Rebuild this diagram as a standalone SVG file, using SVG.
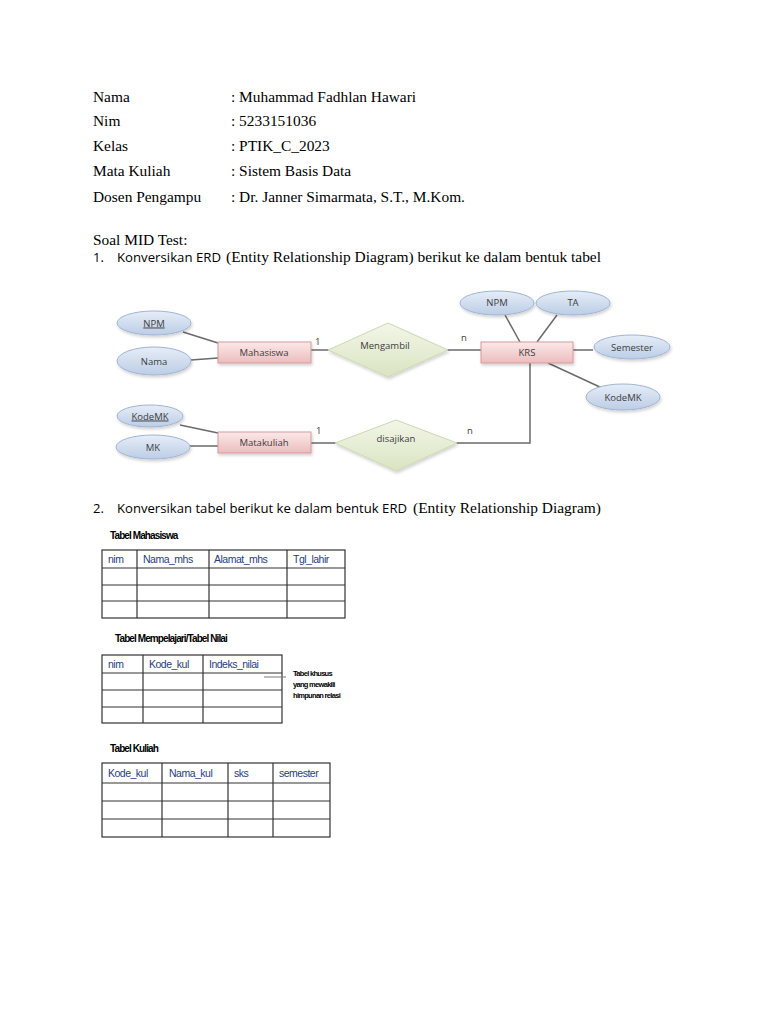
<svg xmlns="http://www.w3.org/2000/svg" width="768" height="1024" viewBox="0 0 768 1024">
<defs>
<linearGradient id="gEll" x1="0" y1="0" x2="0" y2="1"><stop offset="0" stop-color="#e6edf7"/><stop offset="1" stop-color="#bccde6"/></linearGradient>
<linearGradient id="gRect" x1="0" y1="0" x2="0" y2="1"><stop offset="0" stop-color="#fbe9e9"/><stop offset="1" stop-color="#ecbcbd"/></linearGradient>
<linearGradient id="gDia" x1="0" y1="0" x2="0" y2="1"><stop offset="0" stop-color="#f3f6e8"/><stop offset="1" stop-color="#d9e4c2"/></linearGradient>
<filter id="sh" x="-20%" y="-30%" width="140%" height="170%"><feDropShadow dx="1" dy="2" stdDeviation="1.5" flood-color="#000" flood-opacity="0.18"/></filter>
</defs>
<style>
.ser{font-family:"Liberation Serif",serif;font-size:15.4px;fill:#000}
.san{font-family:"Open Sans","Noto Sans",sans-serif;font-size:13px;fill:#000}
.ell{fill:url(#gEll);stroke:#9fb4d4;stroke-width:1;filter:url(#sh)}
.ent{fill:url(#gRect);stroke:#d8999b;stroke-width:1;filter:url(#sh)}
.dia{fill:url(#gDia);stroke:#ccd8b0;stroke-width:1;filter:url(#sh)}
.el{font-family:"Open Sans","Noto Sans",sans-serif;font-size:9.5px;fill:#3d3d3d;text-anchor:middle}
.card{font-family:"Open Sans","Noto Sans",sans-serif;font-size:9.5px;fill:#3d3d3d}
.lnk{stroke:#6a6a6a;stroke-width:1.5;fill:none}
.tl{font-family:"Liberation Sans",Arial,sans-serif;font-size:10px;font-weight:bold;fill:#000;letter-spacing:-0.9px}
.note{font-family:"Liberation Sans",Arial,sans-serif;font-size:7.5px;font-weight:bold;fill:#000;letter-spacing:-0.7px}
.grid{stroke:#333;stroke-width:1.2;fill:none}
.th{font-family:"Liberation Sans",Arial,sans-serif;font-size:10.5px;fill:#1f3c88;letter-spacing:-0.5px}
</style>
<rect width="768" height="1024" fill="#fff"/>

<g id="header">
<text class="ser" x="93" y="102">Nama</text><text class="ser" x="231" y="102">: Muhammad Fadhlan Hawari</text>
<text class="ser" x="93" y="126">Nim</text><text class="ser" x="231" y="126">: 5233151036</text>
<text class="ser" x="93" y="151">Kelas</text><text class="ser" x="231" y="151">: PTIK_C_2023</text>
<text class="ser" x="93" y="176">Mata Kuliah</text><text class="ser" x="231" y="176">: Sistem Basis Data</text>
<text class="ser" x="93" y="202">Dosen Pengampu</text><text class="ser" x="231" y="202">: Dr. Janner Simarmata, S.T., M.Kom.</text>
<text class="ser" x="93" y="245">Soal MID Test:</text>
<text class="san" x="93" y="262">1.</text>
<text class="san" x="117" y="262" textLength="104" lengthAdjust="spacingAndGlyphs">Konversikan ERD</text>
<text class="ser" x="226" y="262" textLength="375" lengthAdjust="spacingAndGlyphs">(Entity Relationship Diagram) berikut ke dalam bentuk tabel</text>
<text class="san" x="93" y="513">2.</text>
<text class="san" x="117" y="513" textLength="290" lengthAdjust="spacingAndGlyphs">Konversikan tabel berikut ke dalam bentuk ERD</text>
<text class="ser" x="413" y="513" textLength="188" lengthAdjust="spacingAndGlyphs">(Entity Relationship Diagram)</text>
</g>

<g id="connectors">
<line class="lnk" x1="183" y1="332" x2="218" y2="343"/>
<line class="lnk" x1="191" y1="360" x2="218" y2="358"/>
<line class="lnk" x1="311" y1="350" x2="329" y2="350"/>
<line class="lnk" x1="447" y1="350" x2="481" y2="350"/>
<line class="lnk" x1="505" y1="315" x2="520" y2="342"/>
<line class="lnk" x1="557" y1="315" x2="537" y2="342"/>
<line class="lnk" x1="573" y1="350" x2="593" y2="350"/>
<line class="lnk" x1="548" y1="363" x2="602" y2="388"/>
<polyline class="lnk" points="530,363 530,443 456,443"/>
<line class="lnk" x1="180" y1="425" x2="218" y2="433"/>
<line class="lnk" x1="190" y1="446" x2="218" y2="446"/>
<line class="lnk" x1="311" y1="443" x2="336" y2="443"/>
<text class="card" x="315" y="345">1</text>
<text class="card" x="461" y="341">n</text>
<text class="card" x="316" y="434">1</text>
<text class="card" x="467" y="434">n</text>
</g>

<g id="npm-left"><ellipse class="ell" cx="154" cy="323" rx="37" ry="12"/><text class="el" x="154" y="326.5" text-decoration="underline">NPM</text></g>
<g id="nama"><ellipse class="ell" cx="154" cy="361" rx="37" ry="14"/><text class="el" x="154" y="364.5">Nama</text></g>
<g id="mahasiswa"><rect class="ent" x="218" y="342" width="93" height="21"/><text class="el" x="264" y="356">Mahasiswa</text></g>
<g id="mengambil"><polygon class="dia" points="328,350 388,323 448,350 388,377"/><text class="el" x="385" y="349">Mengambil</text></g>
<g id="krs"><rect class="ent" x="481" y="342" width="92" height="21"/><text class="el" x="527" y="356">KRS</text></g>
<g id="npm-top"><ellipse class="ell" cx="497" cy="303" rx="37" ry="12"/><text class="el" x="497" y="306">NPM</text></g>
<g id="ta"><ellipse class="ell" cx="573" cy="303" rx="37" ry="12"/><text class="el" x="573" y="306">TA</text></g>
<g id="semester"><ellipse class="ell" cx="632" cy="347" rx="38" ry="12"/><text class="el" x="632" y="350.5">Semester</text></g>
<g id="kodemk-right"><ellipse class="ell" cx="623" cy="397" rx="37" ry="13"/><text class="el" x="623" y="400.5">KodeMK</text></g>
<g id="kodemk-left"><ellipse class="ell" cx="150" cy="416" rx="33" ry="11"/><text class="el" x="150" y="419.5" text-decoration="underline">KodeMK</text></g>
<g id="mk"><ellipse class="ell" cx="153" cy="447" rx="37" ry="12"/><text class="el" x="153" y="450.5">MK</text></g>
<g id="matakuliah"><rect class="ent" x="218" y="432" width="93" height="21"/><text class="el" x="264" y="446">Matakuliah</text></g>
<g id="disajikan"><polygon class="dia" points="335,443 396,420 457,443 396,471"/><text class="el" x="396" y="442">disajikan</text></g>

<g id="tabel-mahasiswa">
<text class="tl" x="110" y="539">Tabel Mahasiswa</text>
<rect class="grid" x="102" y="550" width="243" height="68"/>
<line class="grid" x1="102" y1="568" x2="345" y2="568"/>
<line class="grid" x1="102" y1="585" x2="345" y2="585"/>
<line class="grid" x1="102" y1="601" x2="345" y2="601"/>
<line class="grid" x1="137" y1="550" x2="137" y2="618"/>
<line class="grid" x1="209" y1="550" x2="209" y2="618"/>
<line class="grid" x1="287" y1="550" x2="287" y2="618"/>
<text class="th" x="108" y="563">nim</text>
<text class="th" x="143" y="563">Nama_mhs</text>
<text class="th" x="214" y="563">Alamat_mhs</text>
<text class="th" x="293" y="563">Tgl_lahir</text>
</g>

<g id="tabel-nilai">
<text class="tl" x="115" y="642">Tabel Mempelajari/Tabel Nilai</text>
<rect class="grid" x="102" y="655" width="180" height="68"/>
<line class="grid" x1="102" y1="673" x2="282" y2="673"/>
<line class="grid" x1="102" y1="690" x2="282" y2="690"/>
<line class="grid" x1="102" y1="707" x2="282" y2="707"/>
<line class="grid" x1="143" y1="655" x2="143" y2="723"/>
<line class="grid" x1="203" y1="655" x2="203" y2="723"/>
<text class="th" x="108" y="668">nim</text>
<text class="th" x="149" y="668">Kode_kul</text>
<text class="th" x="209" y="668">Indeks_nilai</text>
<line x1="264" y1="677" x2="286" y2="677" stroke="#777" stroke-width="1"/>
<text class="note" x="293" y="676">Tabel khusus</text>
<text class="note" x="293" y="687">yang mewakili</text>
<text class="note" x="293" y="698">himpunan relasi</text>
</g>

<g id="tabel-kuliah">
<text class="tl" x="110" y="752">Tabel Kuliah</text>
<rect class="grid" x="102" y="763" width="228" height="74"/>
<line class="grid" x1="102" y1="783" x2="330" y2="783"/>
<line class="grid" x1="102" y1="801" x2="330" y2="801"/>
<line class="grid" x1="102" y1="819" x2="330" y2="819"/>
<line class="grid" x1="162" y1="763" x2="162" y2="837"/>
<line class="grid" x1="228" y1="763" x2="228" y2="837"/>
<line class="grid" x1="273" y1="763" x2="273" y2="837"/>
<text class="th" x="108" y="777">Kode_kul</text>
<text class="th" x="169" y="777">Nama_kul</text>
<text class="th" x="234" y="777">sks</text>
<text class="th" x="279" y="777">semester</text>
</g>
</svg>
